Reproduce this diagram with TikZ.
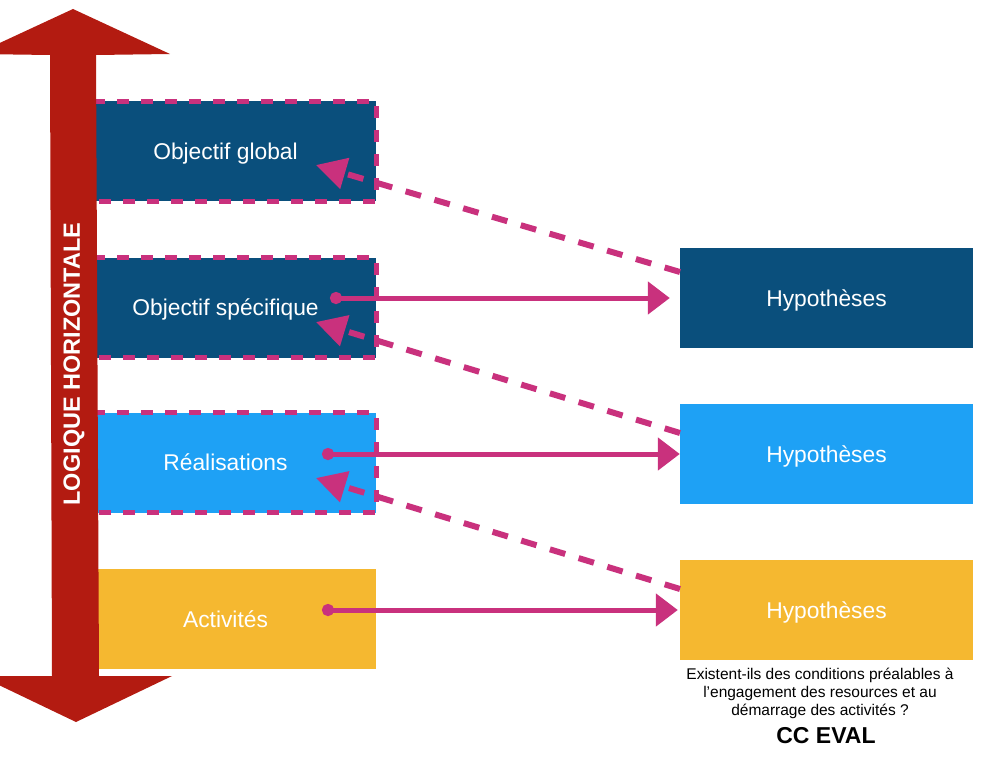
\documentclass[tikz,border=0pt]{standalone}
\usepackage{fontspec}
\setmainfont{Liberation Sans}
\usetikzlibrary{arrows.meta}
\definecolor{dkblue}{HTML}{0A4F7C}
\definecolor{ltblue}{HTML}{1EA1F5}
\definecolor{orng}{HTML}{F5B830}
\definecolor{redarr}{HTML}{B31B11}
\definecolor{pink}{HTML}{C9317D}
\tikzset{
  boxbase/.style={rectangle, inner sep=0pt, text=white, font=\fontsize{22.8}{26}\selectfont, text height=16pt, text depth=0pt},
  leftbox/.style={boxbase, minimum width=301pt, minimum height=100pt},
  rightbox/.style={boxbase, minimum width=293pt, minimum height=100pt},
  dashborder/.style={draw=pink, line width=5pt, dash pattern=on 12pt off 12pt},
  solidarrow/.style={draw=pink, line width=5pt, {Circle[length=12pt]}-{Triangle[length=22pt,width=32pt]}},
  dasharrow/.style={draw=pink, line width=6pt, dash pattern=on 16pt off 14pt, -{Triangle[length=30pt,width=31pt]}},
  note/.style={font=\fontsize{15.5}{18}\selectfont, anchor=base, inner sep=0pt}
}
\begin{document}
\begin{tikzpicture}[x=1pt,y=-1pt]
\useasboundingbox (0,0) rectangle (1008,760);
\clip (0,0) rectangle (1008,760);
% left boxes
\node[leftbox, fill=dkblue, dashborder] (og) at (225.5,151) {Objectif global};
\node[leftbox, fill=dkblue, dashborder] (os) at (225.5,307.5) {Objectif spécifique};
\node[leftbox, fill=ltblue, dashborder] (re) at (225.5,462.5) {Réalisations};
\node[leftbox, fill=orng] (ac) at (225.5,619) {Activités};
% right boxes
\node[rightbox, fill=dkblue] (h1) at (826.5,298) {Hypothèses};
\node[rightbox, fill=ltblue] (h2) at (826.5,454) {Hypothèses};
\node[rightbox, fill=orng] (h3) at (826.5,610) {Hypothèses};
% connector end points
\coordinate (s1) at (330,298);
\coordinate (s2) at (322,454);
\coordinate (s3) at (322,610);
\coordinate (d1s) at (680,272);
\coordinate (d1e) at (316,165);
\coordinate (d2s) at (680,433);
\coordinate (d2e) at (316,322);
\coordinate (d3s) at (680,589);
\coordinate (d3e) at (316,478);
% solid arrows
\draw[solidarrow, shorten >=10pt] (s1) -- (h1.west |- s1);
\draw[solidarrow] (s2) -- (h2.west |- s2);
\draw[solidarrow, shorten >=2pt] (s3) -- (h3.west |- s3);
% dashed arrows
\draw[dasharrow] (d1s) -- (d1e);
\draw[dasharrow] (d2s) -- (d2e);
\draw[dasharrow] (d3s) -- (d3e);
% red double arrow
\fill[redarr] (73,9) -- (170,54) -- (96,55) -- (99,676) -- (172,676) -- (76,722)
  -- (-20,676) -- (52,676) -- (50,55) -- (-24,54) -- cycle;
\node[rotate=90, text=white, font=\bfseries\fontsize{23.5}{28}\selectfont, inner sep=0pt] (lh) at (74,364) {LOGIQUE HORIZONTALE};
% notes
\node[note] (n1) at (820,679) {Existent-ils des conditions préalables à};
\node[note] (n2) at (820,697) {l’engagement des resources et au};
\node[note] (n3) at (820,715) {démarrage des activités ?};
\node[note, font=\bfseries\fontsize{23}{28}\selectfont] (cc) at (826,743) {CC EVAL};
\end{tikzpicture}
\end{document}
